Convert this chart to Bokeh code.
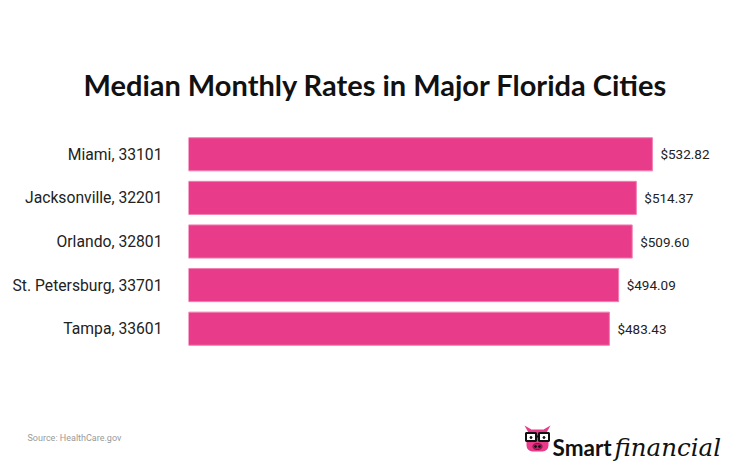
from bokeh.plotting import figure
from bokeh.layouts import column
from bokeh.models import FactorRange, Range1d, ColumnDataSource
from bokeh.embed import file_html
from bokeh.resources import INLINE

# Median monthly premium by city (zip code)
cities = ["Miami, 33101", "Jacksonville, 32201", "Orlando, 32801",
          "St. Petersburg, 33701", "Tampa, 33601"]
rates = [532.82, 514.37, 509.60, 494.09, 483.43]
rate_labels = ["${:.2f}".format(v) for v in rates]

chart_title = "Median Monthly Rates in Major Florida Cities"
source_note = "Source: HealthCare.gov"

PINK = "#E83C8A"
W = 750


def strip(height):
    """Plain drawing strip in pixel units (y grows downward)."""
    s = figure(width=W, height=height, output_backend="svg", toolbar_location=None,
               x_range=Range1d(0, W), y_range=Range1d(height, 0),
               min_border=0, frame_align=False)
    s.axis.visible = False
    s.grid.visible = False
    s.outline_line_color = None
    return s


# Header with the chart title
head = strip(132)
head.text(x=[W / 2], y=[84], text=[chart_title], text_align="center",
          text_baseline="middle", text_font_size="29px", text_font_style="bold",
          text_color="#111111", text_font={"value": "Lato"})

# Main bar chart
src = ColumnDataSource(dict(city=cities, rate=rates, label=rate_labels))

p = figure(width=W, height=268, output_backend="svg", toolbar_location=None,
           y_range=FactorRange(factors=list(reversed(cities)), range_padding=0),
           x_range=Range1d(0, 634),
           min_border_left=188, min_border_right=10,
           min_border_top=0, min_border_bottom=50, frame_align=False)
p.outline_line_color = None
p.grid.visible = False
p.xaxis.visible = False

ax = p.yaxis[0]
ax.axis_line_color = None
ax.major_tick_line_color = None
ax.minor_tick_line_color = None
ax.major_label_standoff = 20
ax.major_label_text_font = "Roboto"
ax.major_label_text_font_size = "15.7px"
ax.major_label_text_color = "#222222"

p.hbar(y="city", right="rate", left=0, height=0.76, source=src,
       fill_color=PINK, line_color="#F27FB2", line_width=1)

p.text(x="rate", y="city", text="label", source=src, x_offset=8,
       text_align="left", text_baseline="middle",
       text_font_size="13.5px", text_color="#222222",
       text_font={"value": "Roboto"})

# Footer: source note and logo
f = strip(70)
f.text(x=[27], y=[37], text=[source_note], text_baseline="middle",
       text_font_size="9px", text_color="#9a9a9a", text_font={"value": "Roboto"})

# pig mascot
f.patches(xs=[[524, 531, 529], [550, 543, 545]], ys=[[25, 29, 34], [25, 29, 34]],
          fill_color=PINK, line_color=None)
f.rect(x=[537], y=[40], width=[22], height=[22], fill_color=PINK, line_color=None,
       border_radius=6)
f.rect(x=[530.5, 543.5], y=[36.5, 36.5], width=[10, 10], height=[8, 8],
       fill_color="white", line_color="#111111", line_width=2)
f.line(x=[535.5, 538.5], y=[36, 36], line_color="#111111", line_width=2)
f.ellipse(x=[537], y=[46], width=[9], height=[6], fill_color="#C81F6B",
          line_color="#7a1040", line_width=1)
f.scatter(x=[535, 539, 530.5, 543.5], y=[46, 46, 37, 37], size=2, color="#111111")

f.text(x=[552], y=[47], text=["Smart"], text_baseline="alphabetic",
       text_font_size="22.5px", text_font_style="bold", text_color="#111111",
       text_font={"value": "Lato"})
f.text(x=[614], y=[47], text=["financial"], text_baseline="alphabetic",
       text_font_size="24.5px", text_font_style="italic", text_color="#111111",
       text_font={"value": "DejaVu Serif"})

layout = column(head, p, f, spacing=0)
open("out.html", "w").write(file_html(layout, INLINE))
